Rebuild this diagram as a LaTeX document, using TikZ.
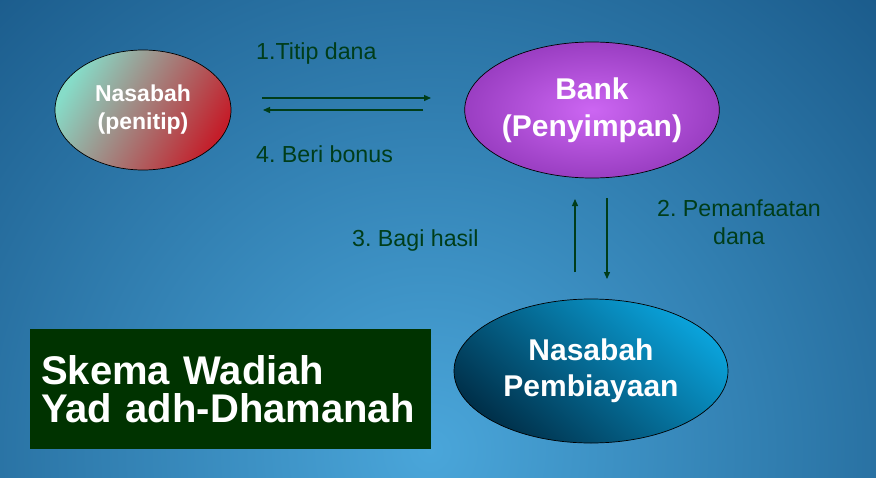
\documentclass[tikz,border=0pt]{standalone}
\usepackage{fontspec}
\setmainfont{Liberation Sans}
\usetikzlibrary{shapes.geometric,arrows.meta}
\frenchspacing
\definecolor{bgin}{HTML}{4AA6DA}
\definecolor{bgout}{HTML}{1A5A8A}
\definecolor{lbl}{HTML}{003D1A}
\definecolor{boxgreen}{HTML}{003300}
\definecolor{tealc}{HTML}{86DCC8}
\definecolor{redc}{HTML}{C41E2A}
\definecolor{purin}{HTML}{CC66F2}
\definecolor{purout}{HTML}{9A3EC2}
\definecolor{bluedark}{HTML}{00304A}
\definecolor{bluelight}{HTML}{0AA2DA}
\tikzset{
  ellnode/.style={ellipse, draw=black, line width=0.7pt, text=white, align=center, inner sep=0pt},
  lab/.style={text=lbl, font=\fontsize{23.2}{28}\selectfont, inner sep=0pt},
  arr/.style={draw=lbl, line width=1.3pt, -{Triangle[length=7pt,width=6pt]}}
}
\begin{document}
\begin{tikzpicture}[x=1pt,y=-1pt]
\useasboundingbox (0,0) rectangle (876,477);
\clip (0,0) rectangle (876,477);
\shade[inner color=bgin, outer color=bgout] (430,450) circle (650);

\node[ellnode, minimum width=176pt, minimum height=120pt, left color=tealc, right color=redc, shading angle=60,
  font=\bfseries\fontsize{23}{28}\selectfont] (pen) at (143,110) {Nasabah\\(penitip)};
\node[ellnode, minimum width=240pt, minimum height=136pt, inner color=purin, outer color=purout,
  font=\bfseries\fontsize{30}{37}\selectfont] (bank) at (592,110) {Bank\\(Penyimpan)};
\node[ellnode, minimum width=274pt, minimum height=144pt, top color=bluelight, bottom color=bluedark, shading angle=-40,
  font=\bfseries\fontsize{30}{36}\selectfont] (pemb) at (591,371) {Nasabah\\Pembiayaan};

\node[fill=boxgreen, text=white, font=\bfseries\fontsize{40}{38}\selectfont, align=left, text width=379pt,
  minimum height=120pt, inner xsep=11pt, inner ysep=0pt, anchor=north west] (title) at (30,329) {Skema Wadiah\\Yad adh-Dhamanah};

\node[lab, anchor=west] (l1) at (256,53) {1.Titip dana};
\node[lab, anchor=west] (l4) at (256,154) {4. Beri bonus};
\node[lab, anchor=west] (l3) at (352,240) {3. Bagi hasil};
\node[lab, align=center] (l2) at (739,222) {2. Pemanfaatan\\dana};

\coordinate (a1s) at (262,98);
\coordinate (a1e) at (431,98);
\coordinate (a4s) at (423,110);
\coordinate (a4e) at (263,110);
\coordinate (a3s) at (575,272);
\coordinate (a3e) at (575,199);
\coordinate (a2s) at (607,198);
\coordinate (a2e) at (607,279);
\draw[arr] (a1s) -- (a1e);
\draw[arr] (a4s) -- (a4e);
\draw[arr] (a3s) -- (a3e);
\draw[arr] (a2s) -- (a2e);
\end{tikzpicture}
\end{document}
